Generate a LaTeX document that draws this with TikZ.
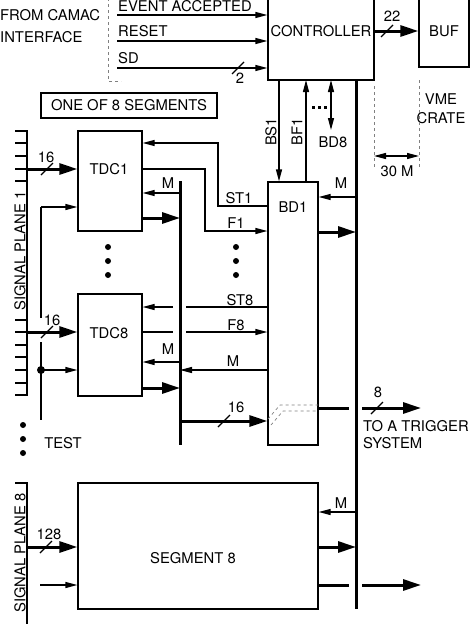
\documentclass[tikz,border=0pt]{standalone}
\usepackage{fontspec}
\setmainfont{TeX Gyre Heros}
\usetikzlibrary{arrows.meta}

\tikzset{
  box/.style={draw, line width=1.3pt, inner sep=0pt},
  wire/.style={line width=1.3pt},
  sig/.style={line width=1.3pt, -{Triangle[length=12pt,width=6pt]}},
  dbl/.style={line width=1.3pt, {Triangle[length=12pt,width=6pt]}-{Triangle[length=12pt,width=6pt]}},
  bus/.style={line width=3pt},
  fat/.style={line width=3pt, -{Triangle[length=18pt,width=11pt]}},
  crate/.style={gray, line width=0.9pt, dash pattern=on 3pt off 3pt},
  bitslash/.pic={\draw[line width=1.3pt] (-6,6) -- (6,-6);},
}

\begin{document}
\begin{tikzpicture}[x=1pt, y=-1pt, inner sep=0pt, font=\fontsize{14.8}{16}\selectfont]
  \useasboundingbox (0,0) rectangle (474,624);

  % boxes
  \node[box, minimum width=106pt, minimum height=86pt] (ctrl) at (321,37) {};
  \node[box, minimum width=50pt, minimum height=73pt] (buf) at (444,30.5) {};
  \node[box, minimum width=176pt, minimum height=25pt] (oneof) at (129,105.5) {ONE OF 8 SEGMENTS};
  \node[box, minimum width=64pt, minimum height=100pt] (tdcone) at (110,181) {};
  \node[box, minimum width=64pt, minimum height=102pt] (tdceight) at (110,345) {};
  \node[box, minimum width=50pt, minimum height=263pt] (bdone) at (293,313.5) {};
  \node[box, minimum width=240pt, minimum height=126pt] (segeight) at (198,546) {};
  \node (ctrltxt) at (321,31) {CONTROLLER};
  \node (buftxt) at (444,31) {BUF};
  \node (tdconetxt) at (109,169) {TDC1};
  \node (tdceighttxt) at (109,333) {TDC8};
  \node (bdonetxt) at (293,207) {BD1};
  \node (segeighttxt) at (193,558) {SEGMENT 8};

  % camac side
  \node[anchor=west] (camac) at (0,15) {FROM CAMAC};
  \node[anchor=west] (iface) at (0,37) {INTERFACE};
  \draw[crate] (108,-2) -- (108,81) -- (121,81);
  \coordinate (ea) at (117,15);
  \coordinate (rs) at (117,41);
  \coordinate (sd) at (117,68);
  \draw[sig] (ea) -- (ea -| ctrl.west);
  \draw[sig] (rs) -- (rs -| ctrl.west);
  \draw[sig] (sd) -- (sd -| ctrl.west);
  \node[anchor=base west] (ealbl) at (118,11.5) {EVENT ACCEPTED};
  \node[anchor=base west] (rslbl) at (118,36) {RESET};
  \node[anchor=base west] (sdlbl) at (118,63) {SD};
  \pic at (238,68) {bitslash};
  \node (sdn) at (240,78) {2};

  % controller to buffer
  \coordinate (cb) at (374,31);
  \draw[fat] (cb) -- (cb -| buf.west);
  \pic at (387,31) {bitslash};
  \node (cbn) at (392,16) {22};
  \node (vme) at (441,99) {VME};
  \node (crate) at (441,118) {CRATE};
  \draw[crate] (374,86) -- (374,167);
  \draw[crate] (419,80) -- (419,167);
  \coordinate (dl) at (374,156);
  \coordinate (dr) at (419,156);
  \draw[dbl] (dl) -- (dr);
  \node (dist) at (397,171) {30 M};

  % controller to board lines
  \coordinate (bs) at (279,80);
  \coordinate (bf) at (306,80);
  \coordinate (bdt) at (331,80);
  \coordinate (bdb) at (331,130);
  \draw[sig] (bs) -- (bs |- bdone.north);
  \draw[sig] (bf |- bdone.north) -- (bf);
  \draw[dbl] (bdt) -- (bdb);
  \draw[line width=3pt, dash pattern=on 3pt off 3pt] (312,107) -- (328,107);
  \node[rotate=90] (bslbl) at (271,132) {BS1};
  \node[rotate=90] (bflbl) at (297,132) {BF1};
  \node (bdlbl) at (333,142) {BD8};

  % main bus and local bus
  \coordinate (mbtop) at (356,80);
  \coordinate (mbbot) at (356,609);
  \draw[bus] (mbtop) -- (mbbot);
  \coordinate (lbtop) at (180,181);
  \coordinate (lbbot) at (180,445);
  \draw[bus] (lbtop) -- (lbbot);

  % signal planes
  \draw[wire] (27,130) -- (27,396);
  \foreach \y in {131,143,156,169,181,320,332,345,357,370,383,395}
    \draw[wire] (15,\y) -- (27,\y);
  \node[rotate=90] (planeone) at (20,251) {SIGNAL PLANE 1};
  \draw[wire] (15,483) -- (27,483) -- (27,626);
  \node[rotate=90] (planeeight) at (20,553) {SIGNAL PLANE 8};

  % TDC1
  \coordinate (pone) at (27,169);
  \draw[fat] (pone) -- (pone -| tdcone.west);
  \pic at (47,169) {bitslash};
  \node (ponen) at (46,157) {16};
  \coordinate (tst) at (41,207);
  \coordinate (tstdot) at (41,370);
  \draw[sig] (tst) -- (tst -| tdcone.west);
  \draw[wire] (tst) -- (41,318);
  \draw[wire] (41,342) -- (41,420);
  \fill (tstdot) circle (4);
  \coordinate (stonea) at (218,206);
  \coordinate (stoneb) at (218,143);
  \draw[sig] (stonea -| bdone.west) -- (stonea) -- (stoneb) -- (stoneb -| tdcone.east);
  \node (stonelbl) at (239,198) {ST1};
  \coordinate (fonea) at (205,169);
  \coordinate (foneb) at (205,231);
  \draw[sig] (fonea -| tdcone.east) -- (fonea) -- (foneb) -- (foneb -| bdone.west);
  \node (fonelbl) at (236,223) {F1};
  \coordinate (mone) at (180,193);
  \draw[sig] (mone) -- (mone -| tdcone.east);
  \node (monelbl) at (168,183) {M};
  \coordinate (oone) at (180,218);
  \draw[fat] (oone -| tdcone.east) -- (oone);

  % BD1 and main bus
  \coordinate (mbone) at (356,197);
  \draw[sig] (mbone) -- (mbone -| bdone.east);
  \node (mbonelbl) at (341,183) {M};
  \coordinate (obone) at (356,232);
  \draw[fat] (obone -| bdone.east) -- (obone);

  % dots
  \foreach \y in {247,261,275} {
    \fill (108,\y) circle (3);
    \fill (236,\y) circle (3);
  }
  \foreach \y in {425,439,453}
    \fill (23,\y) circle (3);
  \node (testlbl) at (63,443) {TEST};

  % TDC8
  \coordinate (peight) at (27,332);
  \draw[fat] (peight) -- (peight -| tdceight.west);
  \pic at (47,332) {bitslash};
  \node (peightn) at (52,320) {16};
  \draw[sig] (tstdot) -- (tstdot -| tdceight.west);
  \coordinate (steightl) at (173,307);
  \coordinate (steightr) at (186,307);
  \draw[sig] (steightl) -- (steightl -| tdceight.east);
  \draw[wire] (steightr) -- (steightr -| bdone.west);
  \node (steightlbl) at (240,300) {ST8};
  \coordinate (feightl) at (173,332);
  \coordinate (feightr) at (186,332);
  \draw[wire] (feightl -| tdceight.east) -- (feightl);
  \draw[sig] (feightr) -- (feightr -| bdone.west);
  \node (feightlbl) at (236,325) {F8};
  \coordinate (meight) at (180,362);
  \draw[sig] (meight) -- (meight -| tdceight.east);
  \node (meightlbl) at (168,349) {M};
  \coordinate (mbd) at (180,370);
  \draw[sig] (mbd -| bdone.west) -- (mbd);
  \node (mbdlbl) at (233,361) {M};
  \coordinate (oeight) at (180,388);
  \draw[fat] (oeight -| tdceight.east) -- (oeight);
  \coordinate (sixteen) at (180,421);
  \draw[fat] (sixteen) -- (sixteen -| bdone.west);
  \pic at (224,421) {bitslash};
  \node (sixteenn) at (236,407) {16};
  \draw[crate, line width=0.7pt] (268,419) -- (280,405) -- (318,405)
                                 (271,425) -- (283,411) -- (318,411);

  % trigger output
  \coordinate (trg) at (349,408);
  \coordinate (trgo) at (362,408);
  \draw[bus] (trg -| bdone.east) -- (trg);
  \draw[fat] (trgo) -- (421,408);
  \pic at (377,408) {bitslash};
  \node (trgn) at (378,392) {8};
  \node[anchor=west] (trglbl) at (363,426) {TO A TRIGGER};
  \node[anchor=west] (syslbl) at (363,443) {SYSTEM};

  % segment 8
  \coordinate (ionetwoeight) at (27,547);
  \draw[fat] (ionetwoeight) -- (ionetwoeight -| segeight.west);
  \pic at (46,547) {bitslash};
  \node (ionetwoeightn) at (49,534) {128};
  \coordinate (iseg) at (40,585);
  \draw[sig] (iseg) -- (iseg -| segeight.west);
  \coordinate (mseg) at (356,512);
  \draw[sig] (mseg) -- (mseg -| segeight.east);
  \node (mseglbl) at (341,503) {M};
  \coordinate (oseg) at (356,547);
  \draw[fat] (oseg -| segeight.east) -- (oseg);
  \coordinate (tseg) at (349,585);
  \coordinate (tsego) at (362,585);
  \draw[bus] (tseg -| segeight.east) -- (tseg);
  \draw[fat] (tsego) -- (421,585);
\end{tikzpicture}
\end{document}
